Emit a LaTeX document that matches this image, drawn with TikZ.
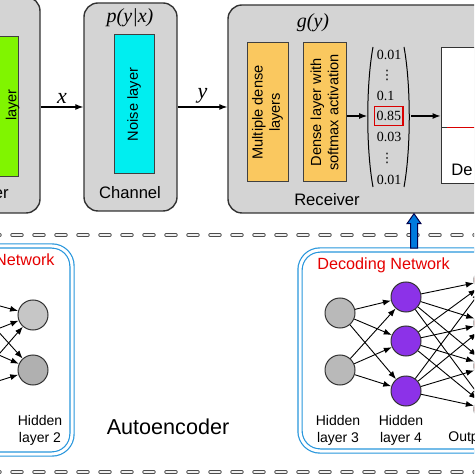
\documentclass[tikz,border=0pt]{standalone}
\usepackage{fontspec}
\setmainfont{Liberation Serif}
\setsansfont{Liberation Sans}
\newfontfamily\dotsfont{DejaVu Sans}
\usepackage{tikz}
\usetikzlibrary{arrows.meta,positioning,fit,calc}

\definecolor{boxgray}{RGB}{212,212,212}
\definecolor{mapgreen}{RGB}{128,245,0}
\definecolor{noisecyan}{RGB}{0,238,240}
\definecolor{denseorange}{RGB}{250,200,95}
\definecolor{netblue}{RGB}{40,150,220}
\definecolor{fbblue}{RGB}{0,122,222}
\definecolor{hidpurple}{RGB}{140,50,232}
\definecolor{outred}{RGB}{232,40,30}

\begin{document}
\begin{tikzpicture}[
  x=0.5pt, y=-0.5pt, font=\sffamily, >={Latex[length=4pt,width=3pt]},
  block/.style={draw=black!80, fill=boxgray, rounded corners=7pt, line width=0.7pt},
  layerbox/.style={draw=black!75, line width=0.5pt, inner sep=1pt, align=center,
    rotate=90, font=\sffamily\fontsize{7.3}{8.6}\selectfont},
  caption/.style={font=\sffamily\fontsize{8.3}{10}\selectfont},
  fn/.style={font=\fontsize{10}{12}\selectfont\itshape},
  sym/.style={font=\fontsize{11}{13}\selectfont\itshape, inner sep=1.5pt},
  prob/.style={font=\fontsize{7}{8}\selectfont, inner sep=0.5pt},
  netbox/.style={draw=netblue, double=white, double distance=1.5pt, line width=0.6pt,
    rounded corners=10pt},
  nettitle/.style={font=\sffamily\fontsize{8.1}{10}\selectfont, text=red!90!black, inner sep=0pt},
  neuron/.style={circle, draw=black!80, line width=0.5pt, minimum size=15pt, inner sep=0pt},
  layername/.style={font=\sffamily\fontsize{7}{8.5}\selectfont, align=center},
  link/.style={->, line width=0.45pt},
  flow/.style={->, line width=0.55pt},
  fbarrow/.style={draw=black!70!blue, fill=fbblue, line width=0.5pt},
  separator/.style={draw=gray!60!black, double=gray!12, double distance=0.8pt,
    line width=0.45pt, dash pattern=on 5pt off 6pt, line cap=round}
]
\useasboundingbox (0,0) rectangle (474,474);
\clip (0,0) rectangle (474,474);

% top row: transmitter, channel, receiver
\node[block, minimum width=50pt, minimum height=108pt] (trans) at (-10,105) {};
\node[layerbox, fill=mapgreen, minimum width=70pt, minimum height=24pt] (txlayer) at (-6,107) {};
\node[rotate=90, font=\sffamily\fontsize{7.3}{8.6}\selectfont] (txlayertext) at (12.5,105) {layer};
\node[caption, anchor=east, inner sep=0pt] (transname) at (9,193) {Transmitter};

\node[block, minimum width=46.5pt, minimum height=104pt] (chan) at (130.5,107) {};
\node[fn] (pyx) at (130,18) {p(y|x)};
\node[layerbox, fill=noisecyan, minimum width=69.5pt, minimum height=20pt] (noise) at (134,104.5) {Noise layer};
\node[caption] (channame) at (130,193) {Channel};

\node[block, minimum width=156pt, minimum height=104pt] (recv) at (384,109) {};
\node[fn] (gy) at (313,23) {g(y)};
\node[layerbox, fill=denseorange, minimum width=69.5pt, minimum height=20.5pt] (dense1) at (267.5,112.5) {Multiple dense\\layers};
\node[layerbox, fill=denseorange, minimum width=69.5pt, minimum height=21.5pt] (dense2) at (324.5,112.5) {Dense layer with\\softmax activation};
\node[caption] (recvname) at (327,200) {Receiver};

% softmax output vector
\foreach \n/\yy/\val in {1/55/0.01, 3/96/0.1, 5/137/0.03, 7/180/0.01}
  \node[prob, anchor=west] (v\n) at (375.5,\yy) {\val};
\node[prob, font=\dotsfont\fontsize{6.5}{8}\selectfont] (v2) at (387,75) {⋮};
\node[prob, font=\dotsfont\fontsize{6.5}{8}\selectfont] (v6) at (387,158) {⋮};
\node[prob, anchor=west, draw=red!85!black, line width=0.8pt, inner xsep=1.1pt, minimum height=9.5pt] (v4) at (373.5,116) {0.85};
\node[fit=(v1)(v7), inner xsep=4pt, inner ysep=0pt] (vec) {};
\draw[line width=0.5pt] (373,47) .. controls (366,85) and (366,149) .. (373,187);
\draw[line width=0.5pt] (404,47) .. controls (411,85) and (411,149) .. (404,187);

\node[draw=black!80, fill=white, line width=0.5pt, minimum width=49.5pt, minimum height=68pt] (demap) at (490.5,116) {};
\draw[black!80, line width=0.5pt] (441,128) -- (447,128);
\draw[red!85!black, line width=0.5pt] (447,128) -- (545,128);
\node[caption, anchor=west, inner sep=0pt] (demapname) at (451,170) {De};

\draw[flow] (trans.east |- chan.west) -- node[sym, above]{x} (chan.west);
\draw[flow] (chan.east) -- node[sym, above]{y} (chan.east -| recv.west);
\draw[flow] (dense2.south |- v4) -- (vec.west |- v4);
\draw[flow] (vec.east |- v4) -- (v4 -| demap.west);

% separators
\coordinate (sepw) at (-10,235);
\coordinate (sepe) at (484,235);
\draw[separator] (sepw) -- (sepe);
\coordinate (botw) at (-10,472);
\coordinate (bote) at (484,472);
\draw[separator] (botw) -- (bote);

% encoding network
\node[netbox, minimum width=66pt, minimum height=104pt] (encnet) at (6,350) {};
\node[nettitle, anchor=east] (encname) at (55,260) {Network};
\foreach \i/\yy in {1/297, 2/341, 3/391}
  \node[neuron, fill=gray!55] (ea\i) at (-33,\yy) {};
\node[neuron, fill=gray!45] (eb1) at (33,315) {};
\node[neuron, fill=gray!62] (eb2) at (33,370) {};
\foreach \i in {1,2,3}
  \foreach \j in {1,2}
    \draw[link] (ea\i) -- (eb\j);
\node[layername] (hid2) at (40,430) {Hidden\\layer 2};

\node[font=\sffamily\fontsize{10.8}{13}\selectfont] (autoname) at (168,427) {Autoencoder};

% decoding network
\node[netbox, minimum width=130pt, minimum height=100.5pt] (decnet) at (430,350.5) {};
\node[nettitle, anchor=west] (decname) at (317,265) {Decoding Network};
\node[neuron, fill=gray!55] (da1) at (340,313) {};
\node[neuron, fill=gray!55] (da2) at (340,370) {};
\foreach \i/\yy in {1/297, 2/341, 3/391}
  \node[neuron, fill=hidpurple] (db\i) at (406,\yy) {};
\foreach \i/\yy in {1/280, 2/323, 3/366, 4/409}
  \node[neuron, fill=outred] (dc\i) at (489,\yy) {};
\foreach \i in {1,2}
  \foreach \j in {1,2,3}
    \draw[link] (da\i) -- (db\j);
\foreach \i in {1,2,3}
  \foreach \j in {1,2,3,4}
    \draw[link] (db\i) -- (dc\j);
\node[layername] (hid3) at (338,430) {Hidden\\layer 3};
\node[layername] (hid4) at (401,430) {Hidden\\layer 4};
\node[layername, anchor=west, inner sep=0pt] (outname) at (448,438) {Output};

% feedback from decoder to receiver
\coordinate (fbtip) at (recv.south -| 414,0);
\filldraw[fbarrow] (fbtip) -- ++(7,10) -- ++(-3.5,0) -- ++(0,24.5) -- ++(-7,0)
  -- ++(0,-24.5) -- ++(-3.5,0) -- cycle;
\end{tikzpicture}
\end{document}
